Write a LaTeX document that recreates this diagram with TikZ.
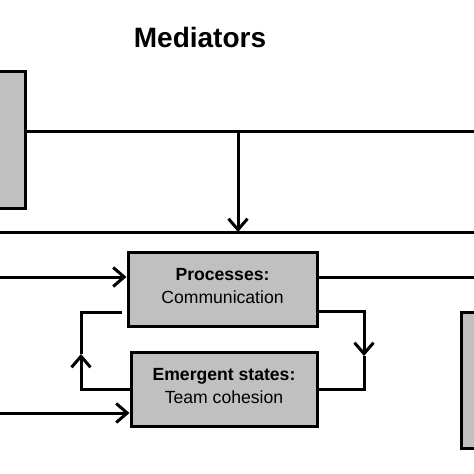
\documentclass[tikz,border=0pt]{standalone}
\usepackage{fontspec}
\setmainfont{Liberation Sans}
\usetikzlibrary{arrows.meta}
\definecolor{boxgray}{RGB}{192,192,192}
\tikzset{
  blk/.style={draw=black, line width=3pt, fill=boxgray, inner sep=0pt, align=center},
  conn/.style={line width=3pt, draw=black},
  arr/.style={conn, -{Straight Barb[length=11pt,width=19pt,line width=3pt]}},
  lbl/.style={font=\fontsize{17.6}{23}\selectfont, align=center}
}
\newcommand{\dropline}{\rule[-7pt]{0pt}{7pt}}
\begin{document}
\begin{tikzpicture}[x=1pt,y=-1pt]
\useasboundingbox (0,0) rectangle (474,474);
\clip (0,0) rectangle (474,474);
% title
\node[anchor=base, font=\fontsize{28}{32}\selectfont\bfseries, inner sep=0pt] (title) at (200,47) {Mediators};
% boxes
\node[blk, minimum width=60pt, minimum height=137pt] (inp) at (-5,139.5) {};
\node[blk, minimum width=60pt, minimum height=136pt] (outp) at (491,380) {};
\node[blk, lbl, minimum width=189pt, minimum height=74pt] (proc) at (222.5,289)
  {\textbf{Processes:}\\Communication\dropline};
\node[blk, lbl, minimum width=186pt, minimum height=74pt] (emer) at (224,389)
  {\textbf{Emergent states:}\\Team cohesion\dropline};
% coordinates
\coordinate (r1) at (476,131.5);
\coordinate (mid) at (238,131.5);
\coordinate (bl) at (-2,232);
\coordinate (br) at (476,232);
\coordinate (l1) at (-2,277);
\coordinate (r2) at (476,277);
\coordinate (l2) at (-2,413);
\coordinate (la) at (81,389);
\coordinate (lb) at (81,354);
\coordinate (lc) at (81,312);
\coordinate (ld) at (122,312);
\coordinate (ra) at (317,311);
\coordinate (rb) at (364,311);
\coordinate (rc) at (364,356);
\coordinate (rd) at (364,389);
% connectors
\draw[conn] (inp.east |- r1) -- (r1);
\draw[arr] (mid) -- (mid |- bl);
\draw[conn] (bl) -- (br);
\draw[arr] (l1) -- (proc.west |- l1);
\draw[conn] (proc.east |- r2) -- (r2);
\draw[arr] (l2) -- (emer.west |- l2);
\draw[arr] (emer.west) -- (la) -- (lb);
\draw[conn] (lb) -- (lc) -- (ld);
\draw[arr] (ra) -- (rb) -- (rc);
\draw[conn] (rc) -- (rd) -- (emer.east);
\end{tikzpicture}
\end{document}
